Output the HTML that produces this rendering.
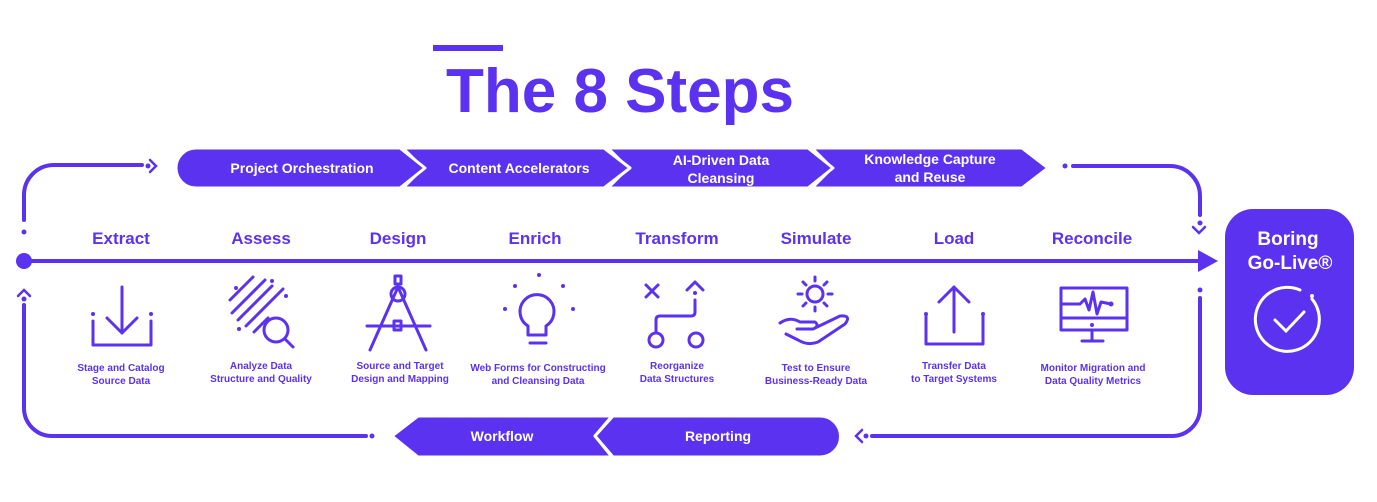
<!DOCTYPE html>
<html><head><meta charset="utf-8"><style>
html,body{margin:0;padding:0;background:#fff;}
svg{display:block;font-family:"Liberation Sans",sans-serif;}
</style></head><body>
<svg width="1377" height="502" viewBox="0 0 1377 502" xmlns="http://www.w3.org/2000/svg">
<g fill="#5b32ef">
<rect x="433" y="45" width="70" height="6"/>
<text x="446" y="112" font-size="62" font-weight="bold">The 8 Steps</text>
</g>
<!-- top band -->
<g fill="#5b32ef" stroke="#fff" stroke-width="3" stroke-linejoin="round">
<path d="M812,148 L1022,148 L1048,168 L1022,188 L812,188 L832,168 Z"/>
<path d="M608,148 L808,148 L833,168 L808,188 L608,188 L628,168 Z"/>
<path d="M403,148 L604,148 L630,168 L604,188 L403,188 L423,168 Z"/>
<path d="M196,148 L400,148 L425,168 L400,188 L196,188 A20,20 0 0 1 196,148 Z"/>
</g>
<g fill="#fff" font-size="14" font-weight="bold" text-anchor="middle">
<text x="302" y="173">Project Orchestration</text>
<text x="519" y="173">Content Accelerators</text>
<text x="721" y="165">AI-Driven Data</text>
<text x="721" y="183">Cleansing</text>
<text x="930" y="164">Knowledge Capture</text>
<text x="930" y="182">and Reuse</text>
</g>
<!-- loops -->
<g fill="none" stroke="#5b32ef" stroke-width="4" stroke-linecap="round">
<path d="M24,220 L24,195 A30,30 0 0 1 54,165 L142,165"/>
<path d="M150,160 L156,166 L150,172" stroke-width="2.5"/>
<path d="M1073,166 L1170,166 A30,30 0 0 1 1200,196 L1200,215"/>
<path d="M1193,227 L1199,233 L1205,227" stroke-width="2.5"/>
<path d="M24,305 L24,408 A28,28 0 0 0 52,436 L366,436"/>
<path d="M18,296 L24,290 L30,296" stroke-width="2.5"/>
<path d="M1200,298 L1200,408 A28,28 0 0 1 1172,436 L872,436"/>
<path d="M862,430 L856,436 L862,442" stroke-width="2.5"/>
<path d="M24,261 L1205,261"/>
</g>
<g fill="#5b32ef">
<circle cx="24" cy="261" r="8"/>
<path d="M1198,250 L1218,261 L1198,272 Z"/>
<circle cx="148" cy="166" r="2.5"/><circle cx="1065" cy="166" r="2.5"/>
<circle cx="1200" cy="223" r="2.5"/><circle cx="24" cy="232" r="2.5"/>
<circle cx="24" cy="299" r="2.5"/><circle cx="1200" cy="290" r="2.5"/>
<circle cx="372" cy="436" r="2.5"/><circle cx="866" cy="436" r="2.5"/>
</g>
<!-- bottom band -->
<g fill="#5b32ef" stroke="#fff" stroke-width="3" stroke-linejoin="round">
<path d="M418,416 L612,416 L595,436 L612,457 L418,457 L392,436 Z"/>
<path d="M613,416 L820,416 A20,20 0 0 1 820,457 L613,457 L595,436 Z"/>
</g>
<g fill="#fff" font-size="14" font-weight="bold" text-anchor="middle">
<text x="502" y="441">Workflow</text>
<text x="718" y="441">Reporting</text>
</g>
<!-- go live -->
<rect x="1225" y="209" width="129" height="186" rx="28" fill="#5b32ef"/>
<g fill="#fff" font-size="19" font-weight="bold" text-anchor="middle">
<text x="1288" y="245">Boring</text>
<text x="1290" y="269">Go-Live®</text>
</g>
<g fill="none" stroke="#fff" stroke-width="3" stroke-linecap="round">
<path d="M1312,299 A32,32 0 1 1 1300,290"/>
<path d="M1275,320 L1286,331 L1304,312"/>
</g>
<circle cx="1312" cy="296" r="2" fill="#fff"/>
<!-- step labels -->
<g fill="#5b32ef" font-size="17" font-weight="bold" text-anchor="middle">
<text x="121" y="244">Extract</text>
<text x="261" y="244">Assess</text>
<text x="398" y="244">Design</text>
<text x="535" y="244">Enrich</text>
<text x="677" y="244">Transform</text>
<text x="816" y="244">Simulate</text>
<text x="954" y="244">Load</text>
<text x="1092" y="244">Reconcile</text>
</g>
<g fill="#5b32ef" font-size="10" font-weight="bold" text-anchor="middle">
<text x="121" y="371">Stage and Catalog</text><text x="121" y="384">Source Data</text>
<text x="261" y="369">Analyze Data</text><text x="261" y="382">Structure and Quality</text>
<text x="400" y="369">Source and Target</text><text x="400" y="382">Design and Mapping</text>
<text x="538" y="371">Web Forms for Constructing</text><text x="538" y="384">and Cleansing Data</text>
<text x="677" y="369">Reorganize</text><text x="677" y="382">Data Structures</text>
<text x="816" y="371">Test to Ensure</text><text x="816" y="384">Business-Ready Data</text>
<text x="954" y="369">Transfer Data</text><text x="954" y="382">to Target Systems</text>
<text x="1093" y="371">Monitor Migration and</text><text x="1093" y="384">Data Quality Metrics</text>
</g>
<!-- icons -->
<g fill="none" stroke="#5b32ef" stroke-width="3" stroke-linecap="round" stroke-linejoin="round">
<path d="M93,321 L93,345 L151,345 L151,321"/><path d="M122,287 L122,333 M107,318 L122,333 L137,318"/>
<path d="M230,300 L253,277 M232,313 L265,280 M238,320 L272,286 M246,326 L283,289 M254,332 L268,318"/>
<circle cx="276" cy="330" r="12"/><path d="M285,339 L293,347"/>
<path d="M398,287 L370,350 M398,287 L426,350"/><circle cx="398" cy="294" r="7"/><rect x="395" y="276" width="6" height="8"/>
<path d="M367,326 L430,326"/><rect x="394" y="321" width="7" height="9"/>
<path d="M528,326 A17,17 0 1 1 546,326 L546,335 L528,335 Z"/><path d="M530,343 L546,343"/>
<path d="M646,285 L658,297 M658,285 L646,297"/><path d="M687,290 L695,282 L703,290"/>
<path d="M695,300 L695,312 Q695,316 691,316 L660,316 Q656,316 656,320 L656,333"/>
<circle cx="656" cy="340" r="7"/><circle cx="696" cy="340" r="7"/>
<circle cx="815" cy="294" r="8"/><path d="M815,277 L815,281 M815,307 L815,311 M798,294 L802,294 M828,294 L832,294 M803,282 L806,285 M824,303 L827,306 M827,282 L824,285 M806,303 L803,306"/>
<path d="M780,323 Q790,316 800,322 L815,322 Q820,326 813,329 L797,329 M815,328 L840,316 Q852,315 845,324 L818,342 Q808,346 798,340 L786,334"/>
<path d="M926,315 L926,344 L983,344 L983,315"/><path d="M954,332 L954,287 M939,302 L954,287 L969,302"/>
<rect x="1061" y="288" width="66" height="42"/><path d="M1061,318 L1127,318 M1092,330 L1092,340 M1082,341 L1103,341"/>
<path d="M1063,304 L1080,304 L1085,299 L1089,310 L1093,292 L1097,314 L1101,302 L1111,304"/>
</g>
<g fill="#5b32ef">
<circle cx="93" cy="314" r="2"/><circle cx="151" cy="314" r="2"/>
<circle cx="926" cy="314" r="2"/><circle cx="983" cy="314" r="2"/>
<circle cx="539" cy="275" r="2"/><circle cx="515" cy="286" r="2"/><circle cx="563" cy="286" r="2"/><circle cx="505" cy="309" r="2"/><circle cx="573" cy="309" r="2"/>
<circle cx="695" cy="293" r="2"/><circle cx="1111" cy="304" r="2.5"/><circle cx="1092" cy="325" r="2"/>
<circle cx="236" cy="288" r="2"/><circle cx="272" cy="281" r="2"/><circle cx="286" cy="296" r="2"/><circle cx="239" cy="329" r="2"/>
</g>
</svg>
</body></html>
